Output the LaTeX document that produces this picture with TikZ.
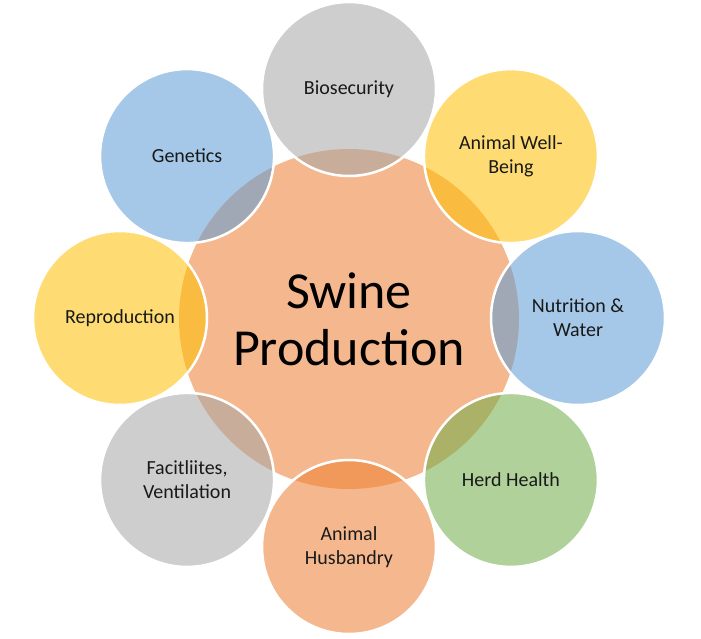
\documentclass[tikz,border=0pt]{standalone}
\usepackage{fontspec}
\setmainfont{Carlito}
\usepackage{tikz}
\usetikzlibrary{positioning}
\usetikzlibrary{shapes}
\definecolor{accblue}{HTML}{5B9BD5}
\definecolor{accorange}{HTML}{ED7D31}
\definecolor{accgray}{HTML}{A5A5A5}
\definecolor{accgold}{HTML}{FFC000}
\definecolor{accgreen}{HTML}{70AD47}
\tikzstyle{hub}=[circle,fill=accorange,fill opacity=0.55,text opacity=1,minimum size=340pt,inner sep=0pt,align=center,font=\fontsize{52}{57}\selectfont]
\tikzstyle{petal}=[circle,fill opacity=0.55,text opacity=1,draw=white,draw opacity=1,line width=2.5pt,minimum size=174pt,inner sep=0pt,align=center,text=black!90,font=\fontsize{20}{24}\selectfont]

\begin{document}
\begin{tikzpicture}[auto,swap]

  \def\R{229pt};

  \useasboundingbox (-349pt,-320pt) rectangle (352pt,318pt);

  \node[hub] (hub) at (0,-1pt) {Swine\\Production};

   \foreach \ang/\name/\col/\label in {90/bio/accgray/Biosecurity, 45/well/accgold/{Animal Well-\\Being}, 0/nutr/accblue/{Nutrition \&\\Water}, -45/herd/accgreen/{Herd Health}, -90/husb/accorange/{Animal\\Husbandry}, -135/faci/accgray/{Facitliites,\\Ventilation}, 180/repr/accgold/Reproduction, 135/gene/accblue/Genetics}
          \node[petal, fill=\col] (\name) at (\ang:\R) {\label};

\end{tikzpicture}
\end{document}
